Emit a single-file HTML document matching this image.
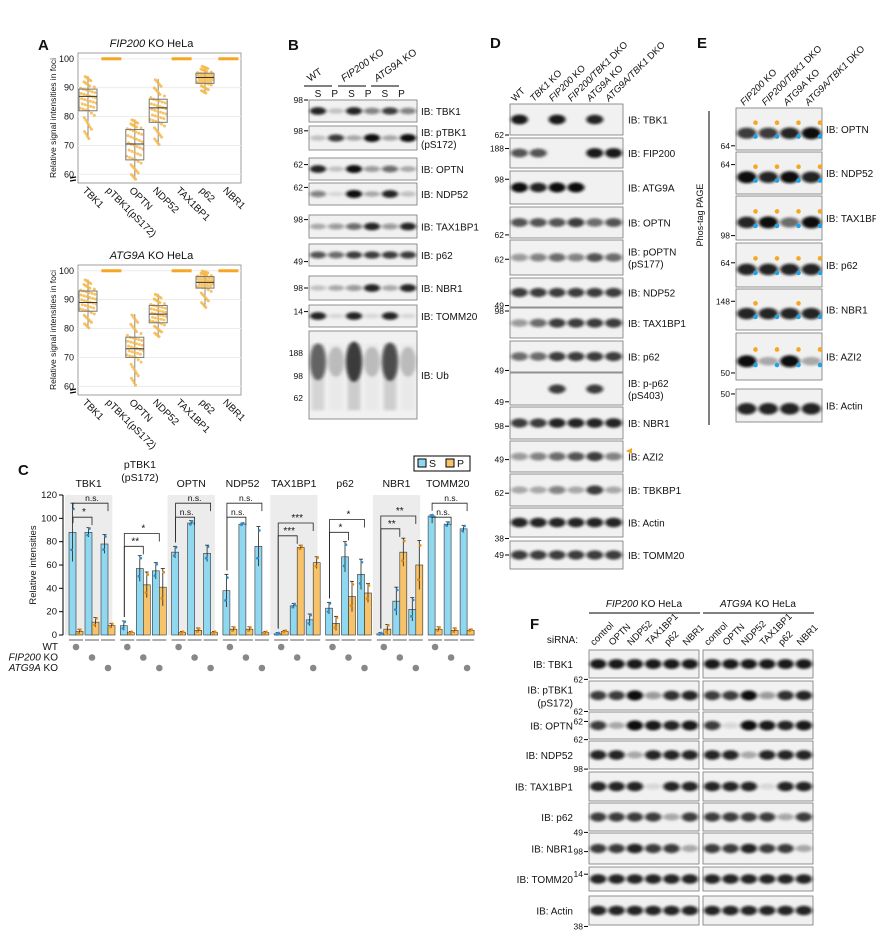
<!DOCTYPE html>
<html><head><meta charset="utf-8">
<style>
body{margin:0;background:#fff;font-family:"Liberation Sans",sans-serif;}
svg text{font-family:"Liberation Sans",sans-serif;fill:#111;}
</style></head>
<body>
<svg id="fig" width="876" height="932" viewBox="0 0 876 932" xmlns="http://www.w3.org/2000/svg">
<defs>
<filter id="blur" x="-20%" y="-100%" width="140%" height="300%"><feGaussianBlur stdDeviation="1.6 1.2"/></filter>
</defs>
<g id="panelA"></g>
<g id="panelB"></g>
<g id="panelC"></g>
<g id="panelD"></g>
<g id="panelE"></g>
<g id="panelF"></g>
</svg>
<script>
// ---------- DATA ----------
const aCats = ["TBK1","pTBK1(pS172)","OPTN","NDP52","TAX1BP1","p62","NBR1"];
const aTopMedian = [87,100,70.5,83,100,93.5,100];
const aTopQ1 = [82,100,65,78,100,91.5,100];
const aTopQ3 = [89.5,100,75.5,86,100,95,100];
const aTopMin = [72,100,58,70,100,88,100];
const aTopMax = [94,100,79,93,100,97.5,100];
const aBotMedian = [89,100,73,85,100,96,100];
const aBotQ1 = [86,100,70,82,100,94,100];
const aBotQ3 = [93,100,77,88,100,98,100];
const aBotMin = [80,100,60,77,100,87,100];
const aBotMax = [97,100,85,92,100,100,100];
const aTicks = [60,70,80,90,100];

const cCats = ["TBK1","pTBK1\n(pS172)","OPTN","NDP52","TAX1BP1","p62","NBR1","TOMM20"];
const cS = [[88,88,78],[8,57,55],[71,96,70],[38,95,76],[1,25,13],[23,67,52],[1,29,22],[102,95,91]];
const cP = [[3,11,8],[2,43,41],[2,4,2],[5,5,2],[3,75,62],[10,33,36],[5,71,60],[5,4,4]];
const cSErr = [[25,4,8],[4,11,7],[5,2,7],[14,1,17],[1,2,5],[5,13,13],[1,12,10],[1,2,3]];
const cPErr = [[2,4,2],[1,11,16],[1,2,1],[2,2,1],[1,2,5],[6,13,8],[4,12,21],[2,2,1]];
const cSig = [["*","n.s."],["**","*"],["n.s.","n.s."],["n.s.","n.s."],["***","***"],["*","*"],["**","**"],["n.s.","n.s."]];
const cTicks = [0,20,40,60,80,100,120];

// ---------- helpers ----------
const NS="http://www.w3.org/2000/svg";
function mk(parent,tag,attrs,txt){const e=document.createElementNS(NS,tag);for(const k in attrs)e.setAttribute(k,attrs[k]);if(txt!==undefined)e.textContent=txt;parent.appendChild(e);return e;}
const A=document.getElementById('panelA'),B=document.getElementById('panelB'),C=document.getElementById('panelC'),D=document.getElementById('panelD'),E=document.getElementById('panelE'),F=document.getElementById('panelF');

// ---------- Panel A ----------
function boxPlot(g,top,bottom,title,med,q1,q3,mn,mx){
  const x0=78,x1=241;
  const y=v=>bottom-(v-57)*(bottom-top)/(102-57);
  const xc=i=>x0+10+i*23.4;
  mk(g,'rect',{x:x0,y:top,width:x1-x0,height:bottom-top,fill:'#fff',stroke:'#888','stroke-width':0.8});
  aTicks.forEach(t=>{mk(g,'line',{x1:x0,x2:x1,y1:y(t),y2:y(t),stroke:'#ececec'});
    const tt=mk(g,'text',{x:x0-4,y:y(t)+3,'font-size':9,'text-anchor':'end'},t);
    });
  mk(g,'line',{x1:x0-8,x2:x0-2,y1:bottom-5,y2:bottom-6,stroke:'#000','stroke-width':1.2});
  mk(g,'line',{x1:x0-8,x2:x0-2,y1:bottom-2,y2:bottom-3,stroke:'#000','stroke-width':1.2});
  const yt=mk(g,'text',{x:0,y:0,'font-size':8.5,'text-anchor':'middle',transform:`translate(${x0-22},${(top+bottom)/2}) rotate(-90)`},'Relative signal intensities in foci');
  
  const tl=mk(g,'text',{x:(x0+x1)/2-8,y:top-6,'font-size':11,'text-anchor':'middle'});
  mk(tl,'tspan',{'font-style':'italic'},title);mk(tl,'tspan',{},' KO HeLa');
  aCats.forEach((c,i)=>{
    const cx=xc(i);
    if(med[i]>=100){mk(g,'rect',{x:cx-10,y:y(100)-1.5,width:20,height:3,fill:'#f5a623'});}
    else{
      const gb=mk(g,'g',{});
      mk(gb,'line',{x1:cx,x2:cx,y1:y(mx[i]),y2:y(mn[i]),stroke:'#888'});
      const n=50;
      for(let k=0;k<n;k++){const f=(k+0.5)/n;const v=mn[i]+(mx[i]-mn[i])*(f<0.25?f*1.6*(q1[i]-mn[i])/(mx[i]-mn[i])/0.4:f>0.75?1-(1-f)*1.6*(mx[i]-q3[i])/(mx[i]-mn[i])/0.4:((q1[i]-mn[i])+(f-0.25)*2*(q3[i]-q1[i]))/(mx[i]-mn[i]));
        const spread=(f>0.2&&f<0.8)?8:4;
        const off=(((k*53+17)%29)/28-0.5)*2*spread;
        mk(gb,'circle',{cx:cx+off,cy:y(v),r:1.5,fill:'#f7b84a','fill-opacity':0.85});}
      mk(gb,'rect',{x:cx-9,y:y(q3[i]),width:18,height:y(q1[i])-y(q3[i]),fill:'none',stroke:'#777'});
      mk(gb,'line',{x1:cx-9,x2:cx+9,y1:y(med[i]),y2:y(med[i]),stroke:'#333'});
    }
    const lt=mk(g,'text',{x:0,y:0,'font-size':10,'text-anchor':'start',transform:`translate(${cx-6},${bottom+8}) rotate(45)`},c);
    
  });
}
mk(A,'text',{x:38,y:50,'font-size':15,'font-weight':'bold'},'A');
boxPlot(A,53,183,'FIP200',aTopMedian,aTopQ1,aTopQ3,aTopMin,aTopMax);
boxPlot(A,265,395,'ATG9A',aBotMedian,aBotQ1,aBotQ3,aBotMin,aBotMax);

// ---------- blot helper ----------
function blot(g,name,x,y,w,h,lanes,ints,bandY,bandH,label,label2,lx,mw,mwY,extra){
  const gb=mk(g,'g',{});
  mk(gb,'rect',{x:x,y:y,width:w,height:h,fill:'#f1f1f1',stroke:'#777','stroke-width':0.8});
  const lw=w/lanes;
  ints.forEach((v,i)=>{ if(v<=0)return;
    mk(gb,'ellipse',{cx:x+lw*(i+0.5),cy:y+h*bandY,rx:lw*0.45,ry:bandH*(0.6+0.4*v),fill:'#111','fill-opacity':Math.min(1,v),filter:'url(#blur)'});
    if(extra) mk(gb,'rect',{x:x+lw*(i+0.15),y:y+h*0.15,width:lw*0.7,height:h*0.75,fill:'#333','fill-opacity':0.25*v,filter:'url(#blur)'});
  });
  if(label){const t=mk(g,'text',{x:lx,y:y+h/2+(label2?-2:4),'font-size':10},label);
    
    if(label2)mk(g,'text',{x:lx,y:y+h/2+10,'font-size':10},label2);}
  if(mw){mk(g,'text',{x:x-6,y:y+h*mwY+3,'font-size':8.5,'text-anchor':'end'},mw);mk(g,'line',{x1:x-5,x2:x-1,y1:y+h*mwY,y2:y+h*mwY,stroke:'#000'});}
}

// ---------- Panel B ----------
mk(B,'text',{x:288,y:50,'font-size':15,'font-weight':'bold'},'B');
[['WT',318],['FIP200',352],['ATG9A',385]].forEach(([t,x])=>{
  const tx=mk(B,'text',{x:0,y:0,'font-size':10,transform:`translate(${x-8},${82}) rotate(-35)`});
  mk(tx,'tspan',{'font-style':t==='WT'?'normal':'italic'},t);if(t!=='WT')mk(tx,'tspan',{},' KO');
  mk(B,'line',{x1:x-14,x2:x+14,y1:86,y2:86,stroke:'#000'});
});
['S','P','S','P','S','P'].forEach((t,i)=>mk(B,'text',{x:318+i*16.7,y:97,'font-size':10,'text-anchor':'middle'},t));
const bRows=[["TBK1",100,22,[.9,.2,.9,.5,.8,.5],null,'98',0],["pTBK1",126,24,[.2,.8,.3,1,.3,1],"(pS172)",'98',0.2],["OPTN",158,22,[.9,.2,1,.4,.6,.3],null,'62',0.3],["NDP52",183,22,[.5,.1,1,.3,.9,.2],null,'62',0.2],["TAX1BP1",215,23,[.3,.4,.6,.9,.4,.9],null,'98',0.2],["p62",244,22,[.7,.6,.8,.8,.8,.8],null,'49',0.8],["NBR1",276,24,[.2,.3,.4,.9,.3,.9],null,'98',0.5],["TOMM20",305,22,[.9,.1,.9,.1,.9,.1],null,'14',0.3]];
bRows.forEach(r=>blot(B,'blot-b-'+r[0].toLowerCase(),309,r[1],108,r[2],6,r[3],0.5,4,'IB: '+r[0],r[4],421,r[5],r[6]));
blot(B,'blot-b-ub',309,331,108,88,6,[.6,.2,.8,.2,.7,.2],0.35,22,'IB: Ub',null,421,null,0,true);
[['188',353],['98',376],['62',398]].forEach(([t,y])=>{mk(B,'text',{x:303,y:y+3,'font-size':8.5,'text-anchor':'end'},t);});

// ---------- Panel C ----------
(function(){
  const x0=63,y0=635,yTop=495,gw=51.3;
  const y=v=>y0-v*(y0-yTop)/120;
  mk(C,'text',{x:18,y:475,'font-size':15,'font-weight':'bold'},'C');
  cCats.forEach((c,gi)=>{
    const gx=x0+2+gi*gw;
    if(gi%2===0){mk(C,'rect',{x:gx,y:yTop,width:gw-4,height:y0-yTop,fill:'#ececec'});}
    const lines=c.split('\n');
    lines.forEach((l,li)=>mk(C,'text',{x:gx+gw/2-2,y:(lines.length>1?468:487)+li*13,'font-size':10.5,'text-anchor':'middle'},l));
    const pos=[11,27,43];
    for(let k=0;k<3;k++){
      const cx=gx+pos[k];
      const sb=mk(C,'rect',{x:cx-7,y:y(cS[gi][k]),width:7,height:y0-y(cS[gi][k]),fill:'#8fd8ef',stroke:'#333','stroke-width':0.6});
      
      const pb=mk(C,'rect',{x:cx,y:y(cP[gi][k]),width:7,height:y0-y(cP[gi][k]),fill:'#f7c36a',stroke:'#333','stroke-width':0.6});
      
      [[cS,cSErr,cx-3.5,'#2a8fd6'],[cP,cPErr,cx+3.5,'#f08a00']].forEach(([v,e,ex,dc])=>{
        const m=v[gi][k],d=e[gi][k];
        mk(C,'line',{x1:ex,x2:ex,y1:y(m+d),y2:y(Math.max(0,m-d)),stroke:'#222','stroke-width':0.8});
        mk(C,'line',{x1:ex-2,x2:ex+2,y1:y(m+d),y2:y(m+d),stroke:'#222','stroke-width':0.8});
        mk(C,'circle',{cx:ex+1,cy:y(m+d*0.8),r:1.3,fill:dc});
        mk(C,'circle',{cx:ex-1,cy:y(Math.max(0,m-d*0.6)),r:1.3,fill:dc});
      });
      mk(C,'line',{x1:cx-7,x2:cx+7,y1:y0+5,y2:y0+5,stroke:'#777','stroke-width':1.2});
      mk(C,'circle',{cx:cx,cy:647+k*10.5,r:3.3,fill:'#888'});
    }
    const hi=cSig[gi];
    const mx=Math.max(cS[gi][0]+cSErr[gi][0],cS[gi][1]+cSErr[gi][1],cP[gi][1]+cPErr[gi][1]);
    const b1=y(Math.min(mx+8,101)),b2=y(Math.min(mx+19,113));
    [[pos[1],b1,hi[0]],[pos[2],b2,hi[1]]].forEach(([p,by,s])=>{
      const g2=mk(C,'g',{});
      mk(g2,'path',{d:`M${gx+pos[0]-3} ${Math.max(by+6,y(cS[gi][0]+cSErr[gi][0])-4)} V${by} H${gx+p} V${by+8}`,fill:'none',stroke:'#222','stroke-width':0.8});
      mk(g2,'text',{x:gx+(pos[0]+p)/2,y:by-2,'font-size':s==='n.s.'?8.5:10,'text-anchor':'middle'},s);
    });
  });
  mk(C,'line',{x1:x0,x2:x0,y1:yTop,y2:y0,stroke:'#000'});
  cTicks.forEach(t=>{mk(C,'line',{x1:x0-4,x2:x0,y1:y(t),y2:y(t),stroke:'#000'});
    const tt=mk(C,'text',{x:x0-6,y:y(t)+3,'font-size':9.5,'text-anchor':'end'},t);
    });
  const yt=mk(C,'text',{x:0,y:0,'font-size':9.5,'text-anchor':'middle',transform:`translate(36,${(y0+yTop)/2}) rotate(-90)`},'Relative intensities');
  
  [['WT',''],['FIP200',' KO'],['ATG9A',' KO']].forEach(([a,b],i)=>{const t=mk(C,'text',{x:58,y:650+i*10.5,'font-size':10,'text-anchor':'end'});
    mk(t,'tspan',{'font-style':i?'italic':'normal'},a);mk(t,'tspan',{},b);});
  const lg=mk(C,'g',{});
  mk(lg,'rect',{x:414,y:456,width:56,height:15,fill:'#fff',stroke:'#000'});
  mk(lg,'rect',{x:418,y:459,width:8,height:8,fill:'#8fd8ef',stroke:'#000'});mk(lg,'text',{x:429,y:467,'font-size':10.5},'S');
  mk(lg,'rect',{x:446,y:459,width:8,height:8,fill:'#f7c36a',stroke:'#000'});mk(lg,'text',{x:457,y:467,'font-size':10.5},'P');
})();

// ---------- Panel D ----------
mk(D,'text',{x:490,y:48,'font-size':15,'font-weight':'bold'},'D');
[['WT',''],['TBK1',' KO'],['FIP200',' KO'],['FIP200/TBK1',' DKO'],['ATG9A',' KO'],['ATG9A/TBK1',' DKO']].forEach(([a,b],i)=>{
  const t=mk(D,'text',{x:0,y:0,'font-size':9.5,transform:`translate(${515+i*18.8},102) rotate(-45)`});
  mk(t,'tspan',{'font-style':i?'italic':'normal'},a);mk(t,'tspan',{},b);});
const dRows=[["TBK1",104,31,[.95,0,.95,0,.9,0],null,'62',1.0],["FIP200",138,30,[.7,.7,0,0,.95,.95],null,'188',0.35],["ATG9A",171,33,[1,.9,1,1,0,0],null,'98',0.25],["OPTN",207,31,[.7,.7,.7,.8,.6,.7],null,'62',0.9],["pOPTN",240,35,[.4,.5,.6,.5,.7,.6],"(pS177)",'62',0.55],["NDP52",278,29,[.8,.8,.8,.8,.8,.8],null,'49',0.95],["TAX1BP1",308,30,[.4,.6,.8,.8,.8,.8],null,'98',0.1],["p62",341,31,[.6,.6,.8,.8,.8,.8],null,'49',0.95],["p-p62",373,32,[0,0,.8,0,.8,0],"(pS403)",'49',0.9],["NBR1",407,32,[.8,.8,.9,.9,.9,.9],null,'98',0.6],["AZI2",441,31,[.4,.5,.6,.7,.8,.5],null,'49',0.6],["TBKBP1",474,32,[.3,.3,.5,.3,.8,.3],null,'62',0.6],["Actin",508,29,[.9,.9,.9,.9,.9,.9],null,'38',1.05],["TOMM20",541,28,[.8,.8,.8,.8,.8,.8],null,'49',0.5]];
dRows.forEach(r=>blot(D,'blot-d-'+r[0].toLowerCase(),510,r[1],113,r[2],6,r[3],0.5,5,'IB: '+r[0],r[4],628,r[5],r[6]));
mk(D,'path',{d:'M626 451 l6 -3 v6 z',fill:'#f5a623'});

// ---------- Panel E ----------
mk(E,'text',{x:697,y:48,'font-size':15,'font-weight':'bold'},'E');
[['FIP200',' KO'],['FIP200/TBK1',' DKO'],['ATG9A',' KO'],['ATG9A/TBK1',' DKO']].forEach(([a,b],i)=>{
  const t=mk(E,'text',{x:0,y:0,'font-size':9.5,transform:`translate(${744+i*21.5},106) rotate(-45)`});
  mk(t,'tspan',{'font-style':'italic'},a);mk(t,'tspan',{},b);});
mk(E,'line',{x1:709,x2:709,y1:111,y2:425,stroke:'#000'});
mk(E,'text',{x:0,y:0,'font-size':9,'text-anchor':'middle',transform:'translate(703,215) rotate(-90)'},'Phos-tag PAGE');
const eRows=[["OPTN",108,42,[.8,.8,.9,1],'64',0.9],["NDP52",152,42,[1,.9,1,.9],'64',0.3],["TAX1BP",196,44,[.9,1,.6,1],'98',0.9],["p62",243,44,[.9,.9,.9,.9],'64',0.45],["NBR1",289,41,[.9,.9,.9,.9],'148',0.3],["AZI2",333,47,[1,.3,1,.3],'50',0.85],["Actin",389,33,[.9,.9,.9,.9],'50',0.15]];
eRows.forEach(r=>{blot(E,'blot-e-'+r[0].toLowerCase(),736,r[1],86,r[2],4,r[3],0.6,6,'IB: '+r[0],null,826,r[4],r[5]);
  if(r[0]!=='Actin')for(let i=0;i<4;i++){mk(E,'circle',{cx:736+21.5*(i+1)-2,cy:r[1]+r[2]*0.68,r:2.3,fill:'#1fa3e8'});
    if(r[0]!=='NBR1'||i%2===0)mk(E,'circle',{cx:736+21.5*(i+1)-2,cy:r[1]+r[2]*0.35,r:2.3,fill:'#f5a623'});}});

// ---------- Panel F ----------
mk(F,'text',{x:530,y:629,'font-size':15,'font-weight':'bold'},'F');
[['FIP200',589],['ATG9A',703]].forEach(([a,x])=>{const t=mk(F,'text',{x:x+55,y:607,'font-size':10,'text-anchor':'middle'});
  mk(t,'tspan',{'font-style':'italic'},a);mk(t,'tspan',{},' KO HeLa');mk(F,'line',{x1:x,x2:x+111,y1:613,y2:613,stroke:'#000'});});
mk(F,'text',{x:578,y:643,'font-size':10,'text-anchor':'end'},'siRNA:');
['control','OPTN','NDP52','TAX1BP1','p62','NBR1'].forEach((s,i)=>{[589,703].forEach(x=>{
  mk(F,'text',{x:0,y:0,'font-size':9.5,transform:`translate(${x+5+i*18.5},646) rotate(-45)`},s);});});
const fRows=[["TBK1",650,28,[.95,.95,.95,.95,.95,.95],null,'62',1.05],["pTBK1",681,29,[.8,.8,1,.4,.85,.9],"(pS172)",'62',1.05],["OPTN",712,27,[.8,.3,1,.95,.9,.95],null,'62',0.35],["NDP52",741,28,[.9,.9,.3,.9,.9,.9],null,'62',-0.05],["TAX1BP1",772,29,[.9,.9,.9,.1,.9,.9],null,'98',-0.1],["p62",803,28,[.8,.8,.8,.8,.3,.8],null,'49',1.05],["NBR1",833,31,[.8,.8,.9,.8,.8,.3],null,'98',0.6],["TOMM20",867,24,[.9,.9,.9,.9,.9,.9],null,'14',0.3],["Actin",896,29,[.9,.9,.9,.9,.9,.9],null,'38',1.05]];
fRows.forEach(r=>{
  const t=mk(F,'text',{x:573,y:r[1]+r[2]/2+(r[4]?-2:4),'font-size':10,'text-anchor':'end'},'IB: '+r[0]);
  
  if(r[4])mk(F,'text',{x:573,y:r[1]+r[2]/2+11,'font-size':10,'text-anchor':'end'},r[4]);
  blot(F,'blot-f-fip-'+r[0].toLowerCase(),589,r[1],110,r[2],6,r[3],0.5,5,null,null,0,r[5],r[6]);
  blot(F,'blot-f-atg-'+r[0].toLowerCase(),703,r[1],110,r[2],6,r[3].map((v,i)=>i===1&&r[0]==='OPTN'?0.1:v),0.5,5,null,null,0,null,0);
});
</script>
</body></html>
